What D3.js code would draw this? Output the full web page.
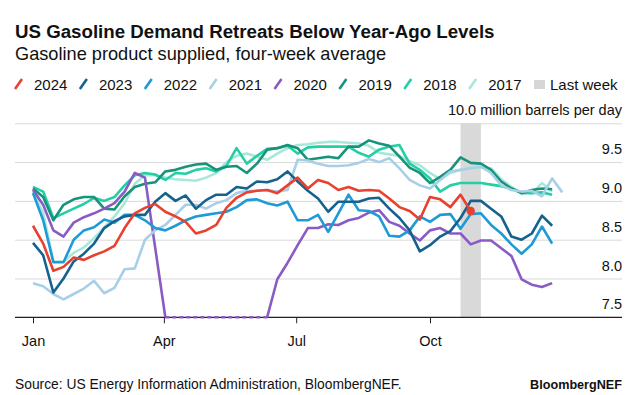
<!DOCTYPE html>
<html><head><meta charset="utf-8">
<script src="https://cdn.jsdelivr.net/npm/d3@7"></script>
<style>
body{margin:0;background:#fff;}
svg text{font-family:"Liberation Sans",Arial,Helvetica,sans-serif;fill:#111;}
</style></head><body>
<svg id="chart" width="640" height="395"></svg>
<script>
// ---------- data ----------
const years = ["2024","2023","2022","2021","2020","2019","2018","2017"];
const v2024 = [8.68,8.45,8.10,8.15,8.27,8.24,8.30,8.35,8.42,8.65,8.84,8.91,8.96,8.86,8.80,8.73,8.58,8.62,8.69,8.91,9.04,9.11,9.13,9.14,9.10,9.20,9.30,9.16,9.27,9.23,9.14,9.18,9.13,9.14,9.13,9.03,8.92,8.87,8.76,9.05,9.02,8.92,9.08,8.87];
const v2023 = [8.46,8.30,7.82,8.00,8.22,8.32,8.45,8.65,8.74,8.80,8.82,8.82,8.99,9.10,9.00,9.07,8.90,9.01,9.08,9.08,9.18,9.16,9.25,9.24,9.28,9.38,9.25,9.13,9.03,8.86,8.99,8.99,8.99,9.03,9.04,8.90,8.78,8.62,8.35,8.43,8.54,8.61,8.78,9.00,9.00,8.90,8.80,8.54,8.50,8.58,8.81,8.68];
const v2022 = [9.10,8.75,8.21,8.21,8.50,8.62,8.66,8.76,8.72,8.82,8.82,8.75,8.65,8.62,8.68,8.75,8.80,8.82,8.84,8.86,8.92,9.01,9.02,8.97,8.94,8.99,8.75,8.75,8.82,8.60,8.84,9.08,8.88,8.87,8.80,8.55,8.54,8.62,8.80,8.73,8.82,8.83,8.64,8.83,8.84,8.69,8.58,8.44,8.32,8.44,8.67,8.45];
const v2021 = [7.94,7.90,7.80,7.73,7.80,7.87,7.97,7.81,7.88,8.12,8.13,8.50,8.62,8.69,8.82,8.95,8.95,8.90,8.97,9.01,9.10,9.13,9.13,9.14,9.12,9.14,9.53,9.52,9.48,9.45,9.45,9.46,9.49,9.54,9.50,9.55,9.42,9.27,9.20,9.16,9.27,9.38,9.40,9.42,9.44,9.36,9.20,9.14,9.12,9.13,9.06,9.29,9.11];
const v2020 = [9.14,8.95,8.62,8.54,8.72,8.79,8.84,8.90,8.97,9.12,9.36,9.30,8.40,6.70,5.90,5.60,5.80,6.10,6.40,6.70,7.00,7.20,7.35,7.45,7.99,8.20,8.43,8.65,8.65,8.70,8.69,8.75,8.78,8.85,8.88,8.73,8.68,8.58,8.49,8.62,8.65,8.58,8.58,8.44,8.49,8.49,8.39,8.29,7.99,7.92,7.89,7.94];
const v2019 = [9.16,9.05,8.75,8.95,9.02,9.05,9.05,8.90,8.89,9.06,9.18,9.22,9.24,9.38,9.40,9.44,9.47,9.48,9.40,9.44,9.45,9.36,9.48,9.66,9.68,9.72,9.68,9.53,9.55,9.57,9.55,9.70,9.70,9.78,9.74,9.71,9.57,9.43,9.36,9.23,9.31,9.40,9.56,9.49,9.48,9.40,9.25,9.16,9.10,9.14,9.16,9.15];
const v2018 = [9.18,9.12,8.78,8.84,8.90,8.96,9.04,9.00,9.05,9.20,9.33,9.36,9.34,9.27,9.36,9.35,9.40,9.42,9.38,9.45,9.68,9.48,9.58,9.67,9.68,9.71,9.61,9.69,9.70,9.70,9.70,9.70,9.62,9.57,9.66,9.70,9.72,9.48,9.40,9.29,9.12,9.20,9.23,9.23,9.23,9.21,9.19,9.16,9.11,9.10,9.11,9.08];
const v2017 = [9.12,8.85,8.22,8.22,8.33,8.40,8.52,8.66,8.80,8.97,9.22,9.33,9.33,9.30,9.28,9.27,9.26,9.30,9.36,9.50,9.58,9.61,9.57,9.53,9.61,9.68,9.72,9.73,9.75,9.76,9.76,9.75,9.74,9.71,9.62,9.60,9.58,9.51,9.46,9.36,9.28,9.36,9.40,9.43,9.43,9.42,9.28,9.18,9.09,9.10,9.23,9.12];
const seriesValues = [v2024,v2023,v2022,v2021,v2020,v2019,v2018,v2017];
const monthTicks = [0, 90, 181, 273];          // day of year
const monthLabels = ["Jan","Apr","Jul","Oct"];
const yTicks = [7.5, 8.0, 8.5, 9.0, 9.5, 10.0];
const yTickLabels = ["7.5","8.0","8.5","9.0","9.5","10.0 million barrels per day"];
const colors = ["#e8412f","#15628e","#1f9ad6","#a9cfe8","#8a5bc4","#17937a","#25cfa4","#a9e7da"];

(function draw() {
  const svg = d3.select("#chart");
  const pLeft = 15, pRight = 622, pTop = 123.3, pBottom = 317.3;
  const x = d3.scaleLinear().domain([0, 365]).range([33, 33 + 365 * 1.4542]);
  const y = d3.scaleLinear().domain([7.5, 10.0]).range([pBottom, pTop]).clamp(true);

  function fitText(sel, w) {
    const cur = parseFloat(sel.style("font-size"));
    const m = sel.node().getComputedTextLength();
    sel.style("font-size", (cur * w / m).toFixed(2) + "px");
  }

  const title = svg.append("text").attr("x", 15).attr("y", 38)
    .style("font-weight", "700").style("font-size", "16px")
    .text("US Gasoline Demand Retreats Below Year-Ago Levels");
  fitText(title, 480);
  const sub = svg.append("text").attr("x", 15).attr("y", 59.5)
    .style("font-size", "16px")
    .text("Gasoline product supplied, four-week average");
  fitText(sub, 371);

  const legend = svg.append("g");
  let lx = 15;
  years.forEach((yr, i) => {
    legend.append("line").attr("x1", lx).attr("y1", 89).attr("x2", lx + 7).attr("y2", 79)
      .attr("stroke", colors[i]).attr("stroke-width", 2.6);
    const t = legend.append("text").attr("x", lx + 19).attr("y", 89.5)
      .style("font-size", "15px").text(yr);
    lx += 19 + t.node().getComputedTextLength() + 12.5;
  });
  legend.append("rect").attr("x", lx).attr("y", 80).attr("width", 11).attr("height", 9).attr("fill", "#d6d6d6");
  legend.append("text").attr("x", lx + 16).attr("y", 89.5).style("font-size", "15px").text("Last week");

  const lastDay = (v2024.length - 1) * 7;
  svg.append("rect")
    .attr("x", x(lastDay - 7)).attr("width", x(lastDay + 7) - x(lastDay - 7))
    .attr("y", pTop).attr("height", pBottom - pTop).attr("fill", "#d9d9d9");

  const yAxis = d3.axisLeft(y).tickValues(yTicks).tickSize(pRight - pLeft)
    .tickFormat((d, i) => yTickLabels[i]);
  const gy = svg.append("g").attr("transform", `translate(${pRight},0)`).call(yAxis);
  gy.select(".domain").remove();
  gy.selectAll(".tick line").attr("stroke", "#d9d9d9").attr("stroke-width", 1);
  gy.selectAll(".tick text").attr("x", 0).attr("dy", null).attr("y", -8.5)
    .attr("text-anchor", "end").attr("fill", "#111")
    .style("font-size", "14.5px").style("font-family", "'Liberation Sans',Arial,sans-serif");
  gy.selectAll(".tick").filter(d => d === 7.5).select("line").remove();

  const xAxis = d3.axisBottom(x).tickValues(monthTicks).tickSize(6)
    .tickFormat((d, i) => monthLabels[i]);
  const gx = svg.append("g").attr("transform", `translate(0,${pBottom})`).call(xAxis);
  gx.select(".domain").remove();
  gx.selectAll(".tick line").attr("stroke", "#222").attr("stroke-width", 1);
  gx.selectAll(".tick text").attr("y", 28.5).attr("dy", null).attr("fill", "#111")
    .style("font-size", "14.5px").style("font-family", "'Liberation Sans',Arial,sans-serif");
  svg.append("line").attr("x1", pLeft).attr("x2", pRight).attr("y1", pBottom).attr("y2", pBottom)
    .attr("stroke", "#222").attr("stroke-width", 1.2);

  const lineGen = d3.line().x(d => x(d.day)).y(d => y(d.v));
  const plot = svg.append("g");
  for (let s = seriesValues.length - 1; s >= 0; s--) {
    const pts = seriesValues[s].map((v, i) => ({ day: i * 7, v }));
    const runs = [];
    for (let i = 0; i < pts.length - 1; i++) {
      const dashed = pts[i].v < 7.5 && pts[i + 1].v < 7.5;
      const last = runs[runs.length - 1];
      if (last && last.dashed === dashed) last.pts.push(pts[i + 1]);
      else runs.push({ dashed, pts: [pts[i], pts[i + 1]] });
    }
    runs.forEach(r => {
      plot.append("path").attr("d", lineGen(r.pts)).attr("fill", "none")
        .attr("stroke", colors[s]).attr("stroke-width", 2.6)
        .attr("stroke-linejoin", "round")
        .attr("stroke-dasharray", r.dashed ? "4,3" : null);
    });
  }
  plot.append("circle").attr("cx", x(lastDay)).attr("cy", y(v2024[v2024.length - 1]))
    .attr("r", 4.2).attr("fill", colors[0]);

  const src = svg.append("text").attr("x", 15).attr("y", 388.5).style("font-size", "14px")
    .text("Source: US Energy Information Administration, BloombergNEF.");
  fitText(src, 387);
  const brand = svg.append("text").attr("x", 622).attr("y", 388.5).attr("text-anchor", "end")
    .style("font-size", "13.5px").style("font-weight", "700").text("BloombergNEF");
  fitText(brand, 92);
})();
</script>
</body></html>
